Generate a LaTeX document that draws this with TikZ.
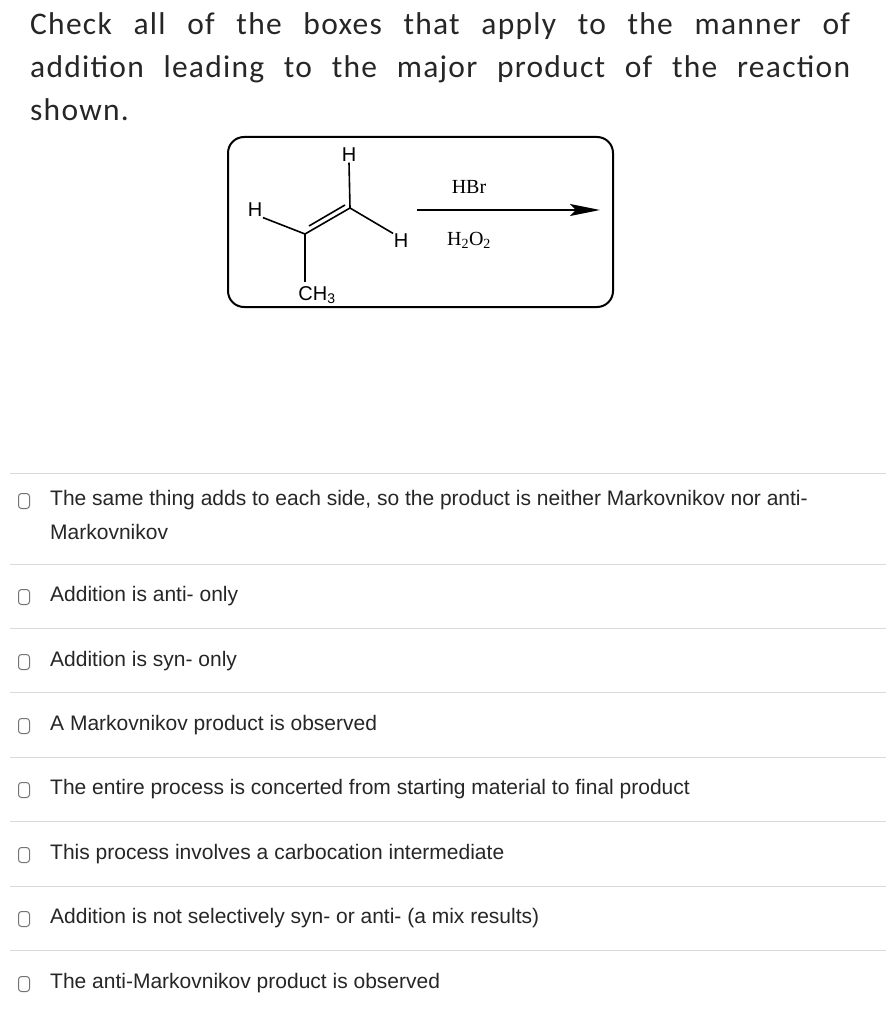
\documentclass[tikz,border=0pt]{standalone}
\usepackage{fontspec}
\usetikzlibrary{arrows.meta}
\setmainfont{Liberation Sans}
\newfontfamily\qfont[LetterSpace=4]{Carlito}
\newfontfamily\serifchem{Liberation Serif}
\begin{document}
\begin{tikzpicture}[x=1pt,y=-1pt,
  sep/.style={draw=black!15,line width=1pt},
  cbox/.style={draw=black!55,line width=1pt,rounded corners=3pt,minimum width=11pt,minimum height=15pt,inner sep=0pt},
  opt/.style={anchor=west,inner sep=0pt,font=\fontsize{21}{32}\selectfont,text=black!85},
  atom/.style={inner sep=0.5pt,font=\fontsize{20}{20}\selectfont},
  bond/.style={line width=1.6pt}]
\useasboundingbox (0,0) rectangle (886,1024);
\node[anchor=north west,text width=820pt,align=justify,inner sep=0pt,font=\qfont\fontsize{31.5}{43}\selectfont,text=black!85] (q) at (30,12)
 {Check all of the boxes that apply to the manner of\linebreak addition leading to the major product of the reaction\linebreak shown.};
% reaction box
\draw[line width=2pt,rounded corners=16pt] (228,137) rectangle (613,307);
\coordinate (c1) at (305,234);
\coordinate (c2) at (350,208);
\coordinate (d1) at (309,226);
\coordinate (d2) at (345,205);
\node[atom] (ht) at (349,155) {H};
\node[atom] (hl) at (255,210) {H};
\node[atom] (hr) at (401,241) {H};
\node[atom] (me) at (317,295) {CH\textsubscript{3}};
\coordinate (mt) at (305,282);
\draw[bond] (c1) -- (c2);
\draw[bond] (d1) -- (d2);
\draw[bond] (c2) -- (ht.south);
\draw[bond] (c2) -- (hr.north west);
\draw[bond] (c1) -- (hl.south east);
\draw[bond] (c1) -- (mt);
\coordinate (a1) at (417,210);
\coordinate (a2) at (600,210);
\draw[line width=2pt,-{Stealth[length=30pt,width=12pt,inset=6pt]}] (a1) -- (a2);
\node[font=\serifchem\fontsize{20}{20}\selectfont] (hbr) at (469,187) {HBr};
\node[font=\serifchem\fontsize{20}{20}\selectfont] (h2o2) at (469,240) {H\textsubscript{2}O\textsubscript{2}};
% options
\foreach \y in {473,564,628,692,757,821,886,950} \draw[sep] (10,\y) -- (886,\y);
\foreach \y/\n in {500/a,596/b,661/c,725/d,789/e,854/f,918/g,983/h} \node[cbox] (cb\n) at (24,\y+1) {};
\node[opt] (o1) at (50,500) {The same thing adds to each side, so the product is neither Markovnikov nor anti-};
\node[opt] (o1b) at (50,532) {Markovnikov};
\node[opt] (o2) at (50,596) {Addition is anti- only};
\node[opt] (o3) at (50,661) {Addition is syn- only};
\node[opt] (o4) at (50,725) {A Markovnikov product is observed};
\node[opt] (o5) at (50,789) {The entire process is concerted from starting material to final product};
\node[opt] (o6) at (50,854) {This process involves a carbocation intermediate};
\node[opt] (o7) at (50,918) {Addition is not selectively syn- or anti- (a mix results)};
\node[opt] (o8) at (50,983) {The anti-Markovnikov product is observed};
\end{tikzpicture}
\end{document}
